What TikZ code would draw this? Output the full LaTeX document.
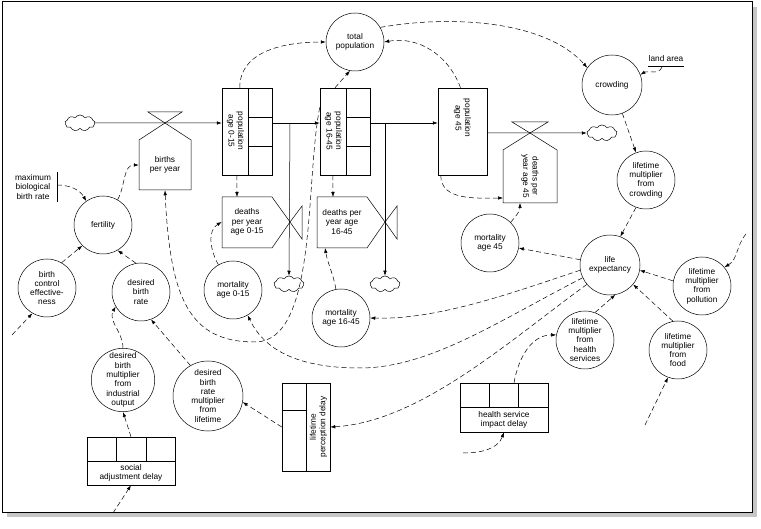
\documentclass[tikz,border=0pt]{standalone}
\usepackage{fontspec}
\setmainfont{Liberation Sans}
\usepackage{tikz}
\usetikzlibrary{arrows.meta,shapes.symbols}

\tikzset{
  aux/.style={circle, draw, minimum size=58pt, inner sep=0pt, align=center},
  info/.style={dash pattern=on 5pt off 3pt, -{Latex[length=5pt,width=3.5pt]}},
  flow/.style={-{Latex[length=5pt,width=3.5pt]}},
  cloudy/.style={cloud, draw, cloud puffs=9, cloud puff arc=120, aspect=2, minimum width=30pt, minimum height=16pt, inner sep=0pt},
  box/.style={draw, minimum width=50pt, minimum height=87pt, inner sep=0pt},
  hidden/.style={inner sep=0pt, align=center}
}

\begin{document}
\begin{tikzpicture}[x=1pt, y=-1pt, font=\fontsize{8.3}{9.3}\selectfont, line width=0.5pt]
\useasboundingbox (0,0) rectangle (761,529);

% frame
\fill[gray!45] (7,7) rectangle (757,517);
\draw[fill=white, line width=1pt] (2,2) rectangle (752,512);

% stocks
\node[box] (p1) at (247,131.5) {};
\node[box] (p2) at (345,131.5) {};
\node[box, minimum width=49pt] (p3) at (462.5,131.5) {};
\foreach \x in {222,320} {
  \draw (\x+26,88) -- (\x+26,175);
  \draw (\x+26,117) -- (\x+50,117);
  \draw (\x+26,146) -- (\x+50,146);
}
\node[hidden, rotate=-90] at (235.5,131) {population\\age 0-15};
\node[hidden, rotate=-90] at (333.5,131) {population\\age 16-45};
\node[hidden, rotate=-90] at (462.5,118) {population\\age 45};

% clouds
\node[cloudy] (c1) at (80,123) {};
\node[cloudy] (c2) at (289,284) {};
\node[cloudy] (c3) at (385,284) {};
\node[cloudy] (c4) at (602,133) {};

% births per year
\node[hidden, minimum width=52pt, minimum height=50pt] (bpy) at (165,165) {births\\per year};
\draw (148,112) -- (182,112) -- (165,123) -- cycle;
\draw (139,190) -- (139,140) -- (165,123) -- (191,140) -- (191,190) -- cycle;

% deaths per year age 0-15
\node[hidden, minimum width=50pt, minimum height=51pt] (d1) at (247,222) {deaths\\per year\\age 0-15};
\draw (222,197) -- (272,197) -- (290,222) -- (272,248) -- (222,248) -- cycle;
\draw (290,222) -- (302,206) -- (302,239) -- cycle;

% deaths per year age 16-45
\node[hidden, minimum width=50pt, minimum height=51pt] (d2) at (342,222) {deaths per\\year age\\16-45};
\draw (317,197) -- (367,197) -- (385,222) -- (367,248) -- (317,248) -- cycle;
\draw (385,222) -- (397,206) -- (397,239) -- cycle;

% deaths per year age 45
\node[hidden, minimum width=54pt, minimum height=53pt, rotate=-90] (d3) at (530,176) {deaths per\\year age 45};
\draw (512,122) -- (548,122) -- (530,133) -- cycle;
\draw (503,203) -- (503,150) -- (530,133) -- (557,150) -- (557,203) -- cycle;

% flows
\draw[flow] (c1) -- (p1.west |- c1);
\draw[flow] (p1.east |- c1) -- (p2.west |- c1);
\draw[flow] (p2.east |- c1) -- (p3.west |- c1);
\draw[flow] (290,123) -- (c2.north);
\draw[flow] (385,123) -- (c3.north);
\draw[flow] (p3.east |- c4) -- (c4);

% auxiliaries
\node[aux] (tp) at (355,42) {total\\population};
\node[aux, minimum size=60pt] (crowd) at (612,85) {crowding};
\node[aux] (ltmc) at (646,180) {lifetime\\multiplier\\from\\crowding};
\node[aux, minimum size=60pt] (le) at (610,265) {life\\expectancy};
\node[aux] (m45) at (490,243) {mortality\\age 45};
\node[aux] (ltmp) at (702,286) {lifetime\\multiplier\\from\\pollution};
\node[aux] (ltmhs) at (585,340) {lifetime\\multiplier\\from\\health\\services};
\node[aux] (ltmf) at (678,350) {lifetime\\multiplier\\from\\food};
\node[aux] (fert) at (103,225) {fertility};
\node[aux] (bce) at (47,288) {birth\\control\\effective-\\ness};
\node[aux] (dbr) at (141,292) {desired\\birth\\rate};
\node[aux] (m1) at (233,290) {mortality\\age 0-15};
\node[aux] (m2) at (341,318) {mortality\\age 16-45};
\node[aux] (dbmio) at (123,380) {desired\\birth\\multiplier\\from\\industrial\\output};
\node[aux, minimum size=70pt] (dbrml) at (208,396) {desired\\birth\\rate\\multiplier\\from\\lifetime};

% delays
\node[draw, minimum width=88pt, minimum height=49pt, inner sep=0pt] (hsid) at (504,407.5) {};
\draw (460,407) -- (548,407) (489,383) -- (489,407) (518,383) -- (518,407);
\node[hidden] at (504,420) {health service\\impact delay};
\node[draw, minimum width=88pt, minimum height=48pt, inner sep=0pt] (sad) at (131,461) {};
\draw (87,461) -- (175,461) (116,437) -- (116,461) (146,437) -- (146,461);
\node[hidden] at (131,473) {social\\adjustment delay};
\node[draw, minimum width=48pt, minimum height=88pt, inner sep=0pt] (lpd) at (306,427) {};
\draw (306,383) -- (306,471) (282,410) -- (306,410);
\node[hidden, rotate=90] at (318.5,427) {lifetime\\perception delay};

% constants
\node[hidden] (mbbr) at (33,187) {maximum\\biological\\birth rate};
\draw (57,172) -- (57,202);
\node[hidden] (land) at (666,59) {land area};
\draw (648,66) -- (684,66);
\coordinate (in1) at (12,335);
\coordinate (in2) at (113,513);
\coordinate (in3) at (463,453);
\coordinate (in4) at (645,425);
\coordinate (in5) at (746,234);

% information links
\draw[info] (57,185) to[out=0, in=120] (fert.125);
\draw[info] (fert.60) to[out=60, in=180] (bpy.west);
\draw[info] (in1) -- (bce.-120);
\draw[info] (bce.60) -- (fert.-135);
\draw[info] (dbr.100) -- (fert.-60);
\draw[info] (dbmio.north) to[out=90, in=-120] (dbr.-150);
\draw[info] (dbrml.120) -- (dbr.-70);
\draw[info] (sad.north) -- (dbmio.south);
\draw[info] (in2) -- (sad.south);
\draw[info] (lpd.west) -- (dbrml.-10);
\draw[info] (p1.north west) ++(18,0) to[out=90, in=180] (tp.west);
\draw[info] (p2.north) ++(-10,0) -- (tp.-100);
\draw[info] (p3.north) ++(-2,0) to[out=110, in=10] (tp.east);
\draw[info] (tp.30) .. controls (450,15) and (545,20) .. (crowd.145);
\draw[info] (land) ++(-4,8) to[out=-110, in=30] (crowd.20);
\draw[info] (crowd.-70) -- (ltmc.110);
\draw[info] (ltmc.-110) -- (le.70);
\draw[info] (in5) to[out=-130, in=30] (ltmp.40);
\draw[info] (ltmp.170) -- (le.-10);
\draw[info] (ltmhs.70) -- (le.-80);
\draw[info] (ltmf.100) -- (le.-40);
\draw[info] (in4) -- (ltmf.-110);
\draw[info] (hsid.north) ++(10,0) to[out=80, in=180] (ltmhs.170);
\draw[info] (in3) to[out=0, in=-110] (hsid.south);
\draw[info] (le.170) -- (m45.-10);
\draw[info] (le.190) .. controls (520,290) and (440,320) .. (m2.east);
\draw[info] (le.205) .. controls (500,320) and (430,368) .. (360,368) .. controls (290,368) and (262,345) .. (m1.-60);
\draw[info] (le.220) .. controls (510,340) and (420,422) .. (lpd.east);
\draw[info] (p1.south west) ++(15,0) -- (237,197);
\draw[info] (p2.south west) ++(13,0) -- (333,197);
\draw[info] (m1.120) to[out=120, in=-150] (d1.west);
\draw[info] (m2.100) to[out=100, in=-80] (325,248);
\draw[info] (p3.south west) ++(3,0) to[out=-90, in=180] (503,198);
\draw[info] (m45.45) to[out=50, in=-90] (520,203);
\draw[info] (p2.west) ++(0,-24) .. controls (305,180) and (318,342) .. (255,342) .. controls (190,342) and (170,300) .. (bpy.south);
\end{tikzpicture}
\end{document}
